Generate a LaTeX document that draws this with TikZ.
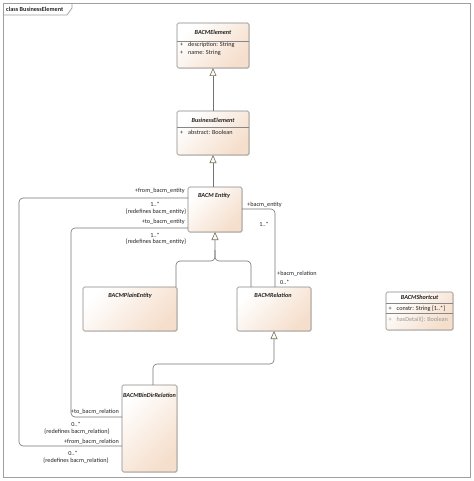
\documentclass[tikz,border=0pt]{standalone}
\usepackage{fontspec}
\setmainfont{Carlito}
\usetikzlibrary{arrows.meta,shadows,calc}
\definecolor{peach}{RGB}{245,222,203}
\definecolor{bordergray}{RGB}{135,135,135}
\definecolor{linegray}{RGB}{115,115,115}
\definecolor{txt}{RGB}{35,35,35}
\definecolor{optxt}{RGB}{150,150,150}
\definecolor{tipfill}{RGB}{255,250,228}
\newcommand\umlbox[5]{\node[cls,minimum width=#4bp,minimum height=#5bp] (#1) at (#2,#3) {};}
\begin{document}
\begin{tikzpicture}[x=1bp,y=-1bp,
  cls/.style={draw=bordergray, line width=0.6bp, rounded corners=1.5bp,
    top color=white, bottom color=peach, shading angle=45,
    anchor=north west, inner sep=0pt, outer sep=0pt,
    drop shadow={shadow xshift=0.8bp,shadow yshift=-0.8bp,opacity=0.2}},
  sepline/.style={draw=bordergray, line width=0.5bp},
  lbl/.style={font=\fontsize{6.2bp}{7bp}\selectfont, text=txt, inner sep=0pt},
  cname/.style={font=\fontsize{6.2bp}{7bp}\selectfont\bfseries\itshape, text=txt, inner sep=0pt},
  genarr/.style={draw=linegray, line width=0.6bp, rounded corners=4bp,
    -{Triangle[open, length=8bp, width=7bp, fill=tipfill]}},
  assoc/.style={draw=linegray, line width=0.6bp, rounded corners=4bp},
  frame/.style={draw=bordergray!80, line width=0.7bp}]
\useasboundingbox (0,0) rectangle (474,481);
% frame
\draw[frame] (3,3) rectangle (470,477);
\draw[frame] (3,15) -- (67,15) -- (72,8) -- (72,3);
\node[lbl, font=\fontsize{6.2bp}{7bp}\selectfont\bfseries, anchor=west] (title) at (6,9.5) {class BusinessElement};

% boxes
\umlbox{elem}{177}{23}{72}{45}
\umlbox{be}{177}{111}{72}{44}
\umlbox{ent}{188}{187}{54}{45}
\umlbox{plain}{83}{287}{94}{44}
\umlbox{rel}{237}{287}{74}{44}
\umlbox{sc}{386}{292}{67}{38}
\umlbox{bin}{122}{385}{55}{87}

% BACMElement
\node[cname] (elemname) at (213,32) {BACMElement};
\draw[sepline] (elem.west |- 0,41) -- (elem.east |- 0,41);
\node[lbl, anchor=west] (elemp1) at (180,45) {+};
\node[lbl, anchor=west] (elema1) at (188,45) {description: String};
\node[lbl, anchor=west] (elemp2) at (180,52.5) {+};
\node[lbl, anchor=west] (elema2) at (188,52.5) {name: String};

% BusinessElement
\node[cname] (bename) at (213,120) {BusinessElement};
\draw[sepline] (be.west |- 0,127) -- (be.east |- 0,127);
\node[lbl, anchor=west] (bep1) at (180,132.5) {+};
\node[lbl, anchor=west] (bea1) at (188,132.5) {abstract: Boolean};

% others
\node[cname] (entname) at (214,196) {BACM Entity};
\node[cname] (plainname) at (130,295.5) {BACMPlainEntity};
\node[cname] (relname) at (273,295.5) {BACMRelation};
\node[cname] (binname) at (149.5,395) {BACMBinDirRelation};

% BACMShortcut
\node[cname] (scname) at (419.5,297) {BACMShortcut};
\draw[sepline] (sc.west |- 0,303) -- (sc.east |- 0,303);
\node[lbl, anchor=west] (scp1) at (388.5,308.5) {+};
\node[lbl, anchor=west] (sca1) at (396.5,308.5) {constr: String [1..*]};
\draw[sepline] (sc.west |- 0,313.5) -- (sc.east |- 0,313.5);
\node[lbl, anchor=west, text=optxt] (scp2) at (388.5,319.5) {+};
\node[lbl, anchor=west, text=optxt] (sco1) at (396.5,319.5) {hasDetail(): Boolean};

% generalizations
\draw[genarr] (be.north) -- (elem.south);
\draw[genarr] (be.south |- ent.north) -- (be.south);
\draw[genarr] ($(plain.north east)+(-1,0)$) -- ++(0,-26) -| (ent.south);
\draw[assoc] ($(rel.north west)+(14,0)$) -- ++(0,-26) -| ($(ent.south)+(0,18)$);
\draw[genarr] ($(bin.north)+(3.5,0)$) -- ++(0,-21) -| (rel.south);

% associations
\draw[assoc] ($(ent.north east)+(0,22)$) -| ($(rel.north)+(1,0)$);
\draw[assoc] ($(ent.north west)+(0,11)$) -- ++(-169,0) |- ($(bin.south west)+(0,-26)$);
\draw[assoc] ($(ent.south west)+(0,-4)$) -- ++(-117,0) |- ($(bin.north west)+(0,32)$);

% association labels
\node[lbl, anchor=east] (l1) at (185,190.5) {+from\_bacm\_entity};
\node[lbl] (l2) at (155,204.5) {1..*};
\node[lbl] (l3) at (156,211.5) {\{redefines bacm\_entity\}};
\node[lbl, anchor=east] (l4) at (185,222) {+to\_bacm\_entity};
\node[lbl] (l5) at (155,235.5) {1..*};
\node[lbl] (l6) at (156,242) {\{redefines bacm\_entity\}};
\node[lbl, anchor=west] (l7) at (247,205) {+bacm\_entity};
\node[lbl] (l8) at (264,224.5) {1..*};
\node[lbl, anchor=west] (l9) at (277,274) {+bacm\_relation};
\node[lbl, anchor=west] (l10) at (280,282.5) {0..*};
\node[lbl, anchor=east] (l11) at (119,412) {+to\_bacm\_relation};
\node[lbl] (l12) at (76,424) {0..*};
\node[lbl] (l13) at (77,432) {\{redefines bacm\_relation\}};
\node[lbl, anchor=east] (l14) at (119,442) {+from\_bacm\_relation};
\node[lbl] (l15) at (73,453) {0..*};
\node[lbl] (l16) at (76,460.5) {\{redefines bacm\_relation\}};
\end{tikzpicture}
\end{document}
